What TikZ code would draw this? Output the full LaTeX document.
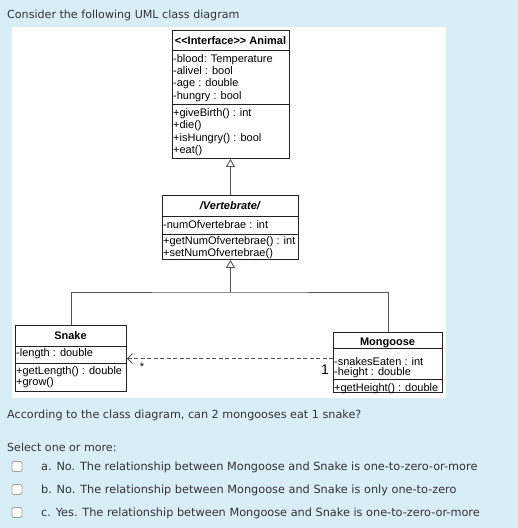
\documentclass[tikz,border=0pt]{standalone}
\usepackage{fontspec}
\setmainfont{DejaVu Sans}
\newfontfamily\uml{Liberation Sans}
\usetikzlibrary{arrows.meta}
\definecolor{bgblue}{HTML}{D9EDF7}
\definecolor{textgray}{HTML}{333333}
\definecolor{linegray}{HTML}{555555}
\definecolor{boxgray}{HTML}{222222}
\tikzset{
  web/.style={font=\fontsize{11.1}{13}\selectfont, text=textgray, anchor=base west, inner sep=0pt},
  webopt/.style={web, font=\fontsize{11.3}{13}\selectfont},
  classbox/.style={draw=boxgray, line width=0.9pt, fill=white, inner sep=0pt, anchor=north west},
  divider/.style={draw=boxgray, line width=0.9pt},
  umltext/.style={font=\uml\fontsize{11}{12}\selectfont, anchor=base west, inner sep=0pt, text=black},
  umlhead/.style={font=\uml\bfseries\fontsize{11}{12}\selectfont, anchor=base, inner sep=0pt, text=black},
  inherit/.style={draw=linegray, line width=0.9pt},
  opentri/.style={-{Triangle[open, width=9pt, length=8pt, line width=0.9pt]}},
  dep/.style={draw=linegray, line width=0.8pt, dash pattern=on 4pt off 2.5pt,
    -{Straight Barb[length=5pt, width=10pt, line width=0.8pt]}},
  chk/.style={draw=gray!75, fill=white, rounded corners=2pt, minimum size=10pt, inner sep=0pt, line width=0.8pt},
}
\begin{document}
\begin{tikzpicture}[x=1pt,y=-1pt]
\useasboundingbox (0,0) rectangle (518,528);
\fill[bgblue] (0,0) rectangle (518,528);
\node[fill=white, inner sep=0pt, anchor=north west, minimum width=434pt, minimum height=371pt] (panel) at (12,27) {};

% Animal
\node[classbox, minimum width=117pt, minimum height=128pt] (animal) at (172,30) {};
\draw[divider] (animal.west |- 0,50) -- (animal.east |- 0,50);
\draw[divider] (animal.west |- 0,104) -- (animal.east |- 0,104);
\node[umlhead] (animalname) at (230.5,44) {<\kern0pt<Interface>\kern0pt> Animal};
\node[umltext] (a1) at (173,62) {-blood: Temperature};
\node[umltext] (a2) at (173,74) {-alivel : bool};
\node[umltext] (a3) at (173,86.5) {-age : double};
\node[umltext] (a4) at (173,99) {-hungry : bool};
\node[umltext] (am1) at (173,116) {+giveBirth() : int};
\node[umltext] (am2) at (173,128) {+die()};
\node[umltext] (am3) at (173,141) {+isHungry() : bool};
\node[umltext] (am4) at (173,153) {+eat()};

% Vertebrate
\node[classbox, minimum width=136pt, minimum height=64pt] (vertebrate) at (162,195) {};
\draw[divider] (vertebrate.west |- 0,216) -- (vertebrate.east |- 0,216);
\draw[divider] (vertebrate.west |- 0,234) -- (vertebrate.east |- 0,234);
\node[umlhead, font=\uml\bfseries\itshape\fontsize{11}{12}\selectfont] (vertname) at (230,209.5) {/Vertebrate/};
\node[umltext] (v1) at (163,228.5) {-numOfvertebrae : int};
\node[umltext] (vm1) at (163,244.5) {+getNumOfvertebrae() : int};
\node[umltext] (vm2) at (163,256) {+setNumOfvertebrae()};

% Snake
\node[classbox, minimum width=111pt, minimum height=66pt] (snake) at (15,325) {};
\draw[divider] (snake.west |- 0,346) -- (snake.east |- 0,346);
\draw[divider] (snake.west |- 0,363) -- (snake.east |- 0,363);
\node[umlhead] (snakename) at (70.5,339) {Snake};
\node[umltext] (s1) at (16,356.5) {-length : double};
\node[umltext] (sm1) at (16,374) {+getLength() : double};
\node[umltext] (sm2) at (16,385) {+grow()};

% Mongoose
\node[classbox, minimum width=109pt, minimum height=60pt] (mongoose) at (333,332) {};
\draw[divider] (mongoose.west |- 0,348.5) -- (mongoose.east |- 0,348.5);
\draw[divider] (mongoose.west |- 0,379) -- (mongoose.east |- 0,379);
\node[umlhead] (mongoosename) at (387.5,345.5) {Mongoose};
\node[umltext] (g1) at (334,365) {-snakesEaten : int};
\node[umltext] (g2) at (334,375) {-height : double};
\node[umltext] (gm1) at (334,391) {+getHeight() : double};

% connectors
\draw[inherit, opentri] (vertebrate.north) -- (vertebrate.north |- animal.south);
\coordinate (join) at (vertebrate.south |- 0,292);
\draw[inherit, opentri] (join) -- (vertebrate.south);
\draw[inherit] (snake.north) |- (join) -| (mongoose.north);
\draw[dep] (mongoose.west |- 0,358.5) -- (snake.east |- 0,358.5);
\node[font=\uml\fontsize{11}{12}\selectfont, inner sep=0pt] (star) at (142,367) {*};
\node[font=\uml\fontsize{14}{14}\selectfont, inner sep=0pt] (one) at (325,370) {1};

% text
\node[web] (title) at (7,18) {Consider the following UML class diagram};
\node[web, font=\fontsize{11.2}{13}\selectfont] (question) at (7,418) {According to the class diagram, can 2 mongooses eat 1 snake?};
\node[web] (select) at (7,451) {Select one or more:};
\node[chk] (cba) at (17,466.5) {};
\node[chk] (cbb) at (17,489.5) {};
\node[chk] (cbc) at (17,512.5) {};
\node[webopt] (opta) at (41,470) {a. No. The relationship between Mongoose and Snake is one-to-zero-or-more};
\node[webopt] (optb) at (41,493) {b. No. The relationship between Mongoose and Snake is only one-to-zero};
\node[webopt] (optc) at (41,516) {c. Yes. The relationship between Mongoose and Snake is one-to-zero-or-more};
\end{tikzpicture}
\end{document}
